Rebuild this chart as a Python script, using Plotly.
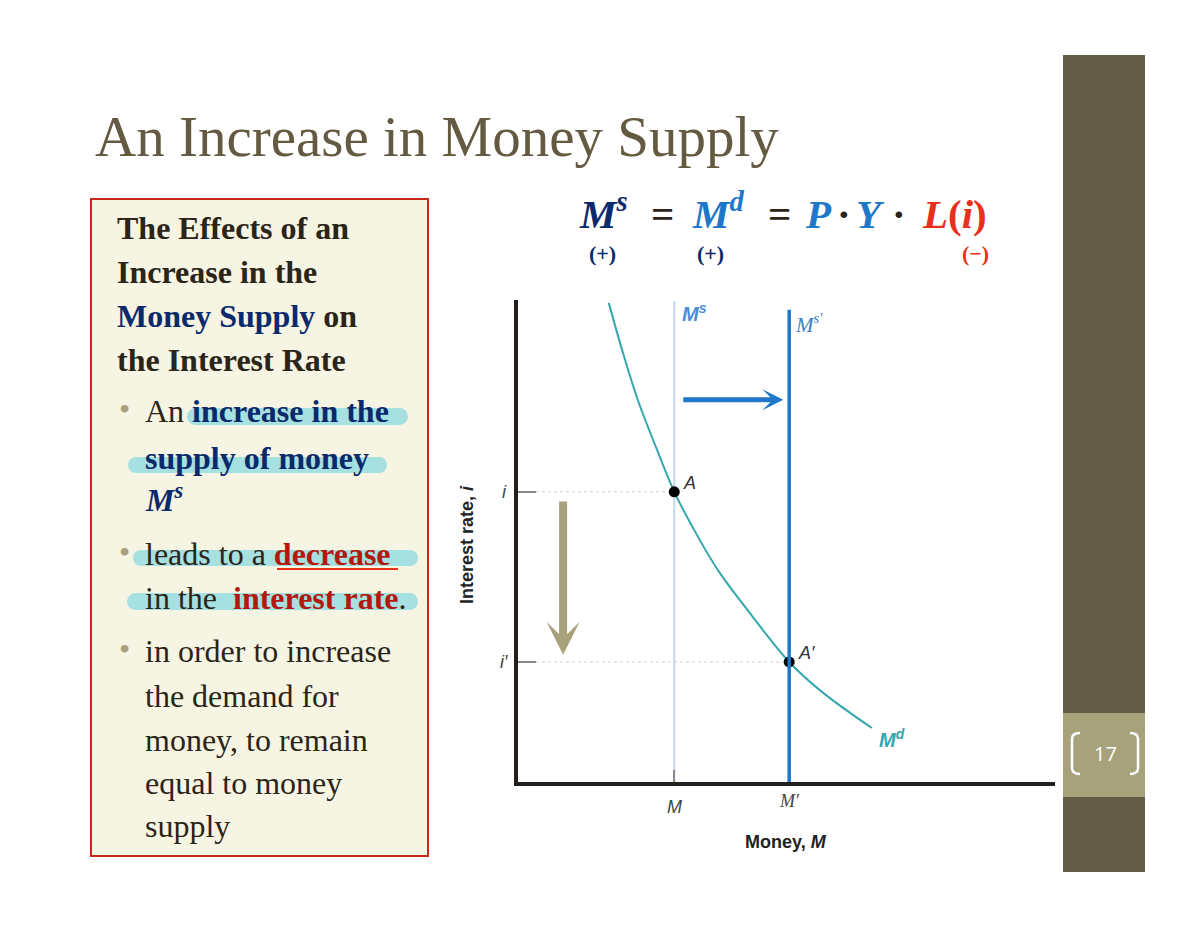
import plotly.graph_objects as go

# equilibrium values (money, interest rate) in chart units
money_levels = [2.91, 5.05]          # M, M'
money_ticks = ["M", "M′"]
rate_levels = [6.02, 2.49]           # i, i'
rate_ticks = ["i", "i′"]
point_names = ["A", "A′"]

# money demand curve Md
md_money = [1.69, 1.94, 2.23, 2.59, 2.91, 3.28, 3.72, 4.30, 5.05, 5.66, 6.59]
md_rate = [9.94, 8.96, 7.93, 6.89, 6.02, 5.23, 4.40, 3.53, 2.49, 1.87, 1.12]

# supply line tops
supply_tops = [9.98, 9.80]

W, H = 1200, 928
OFF = 8  # page body margin


def px(x):
    return (x - OFF) / W


def py(y):
    return 1 - (y - OFF) / H


DARK = "#2b2418"
NAVY = "#0b2a6b"
BLUE = "#1f77c9"
RED = "#e8301c"
DRED = "#b3180d"
OLIVE = "#a8a27c"
TEAL = "#35a7ae"
HIL = "#a6e0e0"

fig = go.Figure()

fig.add_trace(go.Scatter(
    x=md_money, y=md_rate, mode="lines", line=dict(color=TEAL, width=2, shape="spline", smoothing=1),
    hoverinfo="skip", showlegend=False))

fig.add_trace(go.Scatter(
    x=money_levels, y=rate_levels, mode="markers",
    marker=dict(color="black", size=11), hoverinfo="skip", showlegend=False))

shapes = []
# supply lines
shapes.append(dict(type="line", xref="x", yref="y", x0=money_levels[0], x1=money_levels[0],
                   y0=0, y1=supply_tops[0], line=dict(color="#c3d5f2", width=2), layer="below"))
shapes.append(dict(type="line", xref="x", yref="y", x0=money_levels[1], x1=money_levels[1],
                   y0=0, y1=supply_tops[1], line=dict(color=BLUE, width=3.5)))
# dotted guides to the points
for m, r in zip(money_levels, rate_levels):
    shapes.append(dict(type="line", xref="x", yref="y", x0=0, x1=m, y0=r, y1=r,
                       line=dict(color="#d0d0d0", width=1, dash="dot"), layer="below"))

# left text box
shapes.append(dict(type="rect", xref="paper", yref="paper", x0=px(91), x1=px(428),
                   y0=py(856), y1=py(199), fillcolor="#f6f4e2",
                   line=dict(color="#c8281c", width=2), layer="below"))

# highlighter marks (x0, x1, y_top, y_bottom)
highlights = [(187, 408, 408, 425), (128, 387, 457, 473), (133, 418, 550, 566), (127, 418, 593, 610)]
for x0, x1, y0, y1 in highlights:
    r = (y1 - y0) / 2
    shapes.append(dict(type="rect", xref="paper", yref="paper", x0=px(x0 + r), x1=px(x1 - r),
                       y0=py(y1), y1=py(y0), fillcolor=HIL, line=dict(width=0), layer="below"))
    for cx in (x0 + r, x1 - r):
        shapes.append(dict(type="circle", xref="paper", yref="paper", x0=px(cx - r), x1=px(cx + r),
                           y0=py(y1), y1=py(y0), fillcolor=HIL, line=dict(width=0), layer="below"))

# underline of "decrease"
shapes.append(dict(type="line", xref="paper", yref="paper", x0=px(277), x1=px(398),
                   y0=py(569), y1=py(569), line=dict(color=RED, width=2)))

# right-hand bar with slide number
shapes.append(dict(type="rect", xref="paper", yref="paper", x0=px(1063), x1=px(1145),
                   y0=py(872), y1=py(55), fillcolor="#645c46", line=dict(width=0), layer="below"))
shapes.append(dict(type="rect", xref="paper", yref="paper", x0=px(1063), x1=px(1145),
                   y0=py(797), y1=py(713), fillcolor=OLIVE, line=dict(width=0), layer="below"))


def bracket(x_out, x_in, y0, y1):
    return ("M {a},{b} Q {c},{b} {c},{d} L {c},{e} Q {c},{f} {a},{f}".format(
        a=px(x_in), b=py(y0), c=px(x_out), d=py(y0 + 6), e=py(y1 - 6), f=py(y1)))


shapes.append(dict(type="path", xref="paper", yref="paper", path=bracket(1072, 1080, 733, 774),
                   line=dict(color="white", width=2.5)))
shapes.append(dict(type="path", xref="paper", yref="paper", path=bracket(1138, 1130, 733, 774),
                   line=dict(color="white", width=2.5)))

ann = []


def txt(text, x, y, size, color=DARK, family="Liberation Serif", xanchor="left", yanchor="middle", **kw):
    ann.append(dict(text=text, x=px(x), y=py(y), xref="paper", yref="paper", showarrow=False,
                    xanchor=xanchor, yanchor=yanchor, font=dict(size=size, color=color, family=family), **kw))


# title
txt("An Increase in Money Supply", 93, 137, 57, color="#645a42")

# equation
eq_tokens = [
    ("<b><i>M<sup>s</sup></i></b>", 603, NAVY),
    ("<b>=</b>", 662, DARK),
    ("<b><i>M<sup>d</sup></i></b>", 718, BLUE),
    ("<b>=</b>", 779, DARK),
    ("<b><i>P</i></b>", 818, BLUE),
    ("<b>·</b>", 844, DARK),
    ("<b><i>Y</i></b>", 870, BLUE),
    ("<b>·</b>", 899, DARK),
    ("<b><i>L</i>(<i>i</i>)</b>", 954, RED),
]
for t, x, c in eq_tokens:
    txt(t, x, 239, 41, color=c, xanchor="center", yanchor="bottom")
txt("<b>(+)</b>", 602, 253, 22, color=NAVY, xanchor="center")
txt("<b>(+)</b>", 710, 253, 22, color=NAVY, xanchor="center")
txt("<b>(−)</b>", 975, 253, 22, color=RED, xanchor="center")

# box text
L = 32
txt("<b>The Effects of an</b>", 115, 228, L)
txt("<b>Increase in the</b>", 115, 272, L)
txt("<b><span style='color:%s'>Money Supply</span> on</b>" % NAVY, 115, 316, L)
txt("<b>the Interest Rate</b>", 115, 360, L)
for yb in (411, 554, 651):
    txt("•", 117, yb - 2, 32, color=OLIVE)
txt("An <b><span style='color:%s'>increase in the</span></b>" % NAVY, 143, 411, L)
txt("<b><span style='color:%s'>supply of money</span></b>" % NAVY, 143, 458, L)
txt("<b><i><span style='color:%s'>M<sup>s</sup></span></i></b>" % NAVY, 143, 498, L)
txt("leads to a <b><span style='color:%s'>decrease</span></b>" % DRED, 143, 554, L)
txt("in the  <b><span style='color:%s'>interest rate</span></b>." % DRED, 143, 598, L)
txt("in order to increase", 143, 651, L)
txt("the demand for", 143, 696, L)
txt("money, to remain", 143, 740, L)
txt("equal to money", 143, 783, L)
txt("supply", 143, 826, L)

# slide number
txt("17", 1105, 753, 20, color="white", family="Open Sans", xanchor="center")

# chart labels
SANS = "Liberation Sans"
for m, t in zip(money_levels, money_ticks):
    fam = SANS if t == "M" else "Liberation Serif"
    ann.append(dict(text="<i>%s</i>" % t, x=m, y=py(806 if t == "M" else 800), xref="x", yref="paper",
                    showarrow=False, yshift=-13, font=dict(size=18, color="#444", family=fam)))
for r, t in zip(rate_levels, rate_ticks):
    ann.append(dict(text="<i>%s</i>" % t, x=px(504), y=r, xref="paper", yref="y", showarrow=False,
                    font=dict(size=18, color="#444", family=SANS)))
for m, r, t in zip(money_levels, rate_levels, point_names):
    ann.append(dict(text="<i>%s</i>" % t, x=m, y=r, xref="x", yref="y", showarrow=False,
                    xanchor="left", xshift=7, yshift=9, font=dict(size=18, color="#333", family=SANS)))
ann.append(dict(text="<b><i>M<sup>s</sup></i></b>", x=money_levels[0], y=supply_tops[0], xref="x", yref="y",
                showarrow=False, xanchor="left", yanchor="top", xshift=6, yshift=3,
                font=dict(size=20, color="#4a8fd6", family=SANS)))
ann.append(dict(text="<i>M<sup>s′</sup></i>", x=money_levels[1], y=supply_tops[1], xref="x", yref="y",
                showarrow=False, xanchor="left", yanchor="top", xshift=4, yshift=2,
                font=dict(size=21, color="#3a80c8", family="Liberation Serif")))
ann.append(dict(text="<b><i>M<sup>d</sup></i></b>", x=md_money[-1], y=md_rate[-1], xref="x", yref="y",
                showarrow=False, xanchor="left", yanchor="top", xshift=5, yshift=4,
                font=dict(size=20, color=TEAL, family=SANS)))
txt("<b>Money, <i>M</i></b>", 786, 842, 18, color="#222", family=SANS, xanchor="center")
txt("<b>Interest rate, <i>i</i></b>", 467, 545, 18, color="#222", family=SANS, xanchor="center",
    textangle=-90)

# shift arrows
ann.append(dict(x=4.94, y=7.93, ax=3.05, ay=7.93, xref="x", yref="y", axref="x", ayref="y",
                text="", showarrow=True, arrowhead=3, arrowsize=0.7, arrowwidth=5, arrowcolor=BLUE))
ann.append(dict(x=0.84, y=2.64, ax=0.84, ay=5.85, xref="x", yref="y", axref="x", ayref="y",
                text="", showarrow=True, arrowhead=3, arrowsize=0.69, arrowwidth=8, arrowcolor=OLIVE))

fig.update_layout(
    width=W, height=H, margin=dict(l=0, r=0, t=0, b=0),
    paper_bgcolor="white", plot_bgcolor="rgba(0,0,0,0)",
    shapes=shapes, annotations=ann, showlegend=False,
    xaxis=dict(domain=[px(518), px(1055)], range=[0, 10], showgrid=False, zeroline=False,
               showline=True, linewidth=4, linecolor="#231f1a", tickvals=money_levels[:1],
               ticks="inside", ticklen=12, tickcolor="#888", tickwidth=1.5, showticklabels=False,
               fixedrange=True),
    yaxis=dict(domain=[py(782), py(300)], range=[0, 10], showgrid=False, zeroline=False,
               showline=True, linewidth=4, linecolor="#231f1a", tickvals=rate_levels,
               ticks="inside", ticklen=18, tickcolor="#888", tickwidth=1.5, showticklabels=False,
               fixedrange=True),
)

fig.write_html("out.html")
